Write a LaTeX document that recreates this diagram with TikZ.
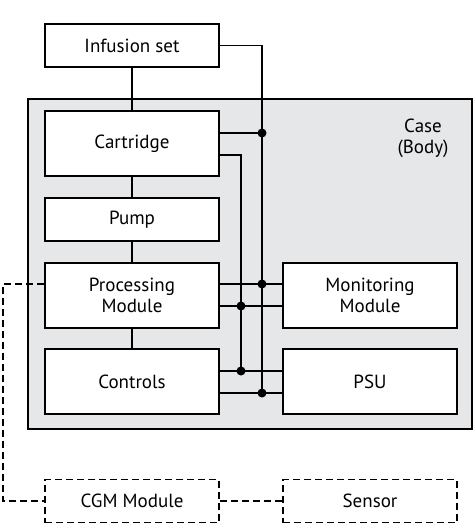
\documentclass[tikz,border=0pt]{standalone}
\usepackage{fontspec}
\setmainfont{PT Sans}
\usetikzlibrary{positioning}
\definecolor{casegray}{RGB}{230,231,233}

\begin{document}
\begin{tikzpicture}[x=1pt,y=-1pt,line width=1.5pt,
      font=\fontsize{19}{22}\selectfont,
      every node/.style={inner sep=0pt},
      block/.style={draw,fill=white,line width=1.7pt,minimum width=174pt,align=center},
      tall/.style={block,minimum height=65pt},
      short/.style={block,minimum height=43pt},
      ghost/.style={short,fill=none,dashed,dash pattern=on 7pt off 4pt},
      link/.style={dashed,dash pattern=on 7pt off 4pt,line width=1.7pt},
      dot/.style={circle,fill,minimum size=9pt}]
      \useasboundingbox (0,0) rectangle (474,524);
      % case
      \node[draw,fill=casegray,line width=1.7pt,minimum width=444pt,minimum height=330pt] (case) at (250,264) {};
      \node[align=center] (caselabel) at (423,138) {Case\\[-1pt](Body)};
      % blocks
      \node[short] (infusion)   at (132,45.5)  {Infusion set};
      \node[tall]  (cartridge)  at (132,143.5) {Cartridge};
      \node[short] (pump)       at (132,219.5) {Pump};
      \node[tall]  (processing) at (132,295.5) {Processing\\[-1pt]Module};
      \node[tall]  (controls)   at (132,381.5) {Controls};
      \node[tall]  (monitoring) at (370,295.5) {Monitoring\\[-1pt]Module};
      \node[tall]  (psu)        at (370,381.5) {PSU};
      \node[ghost] (cgm)        at (132,501)   {CGM Module};
      \node[ghost] (sensor)     at (370,501)   {Sensor};
      % bus points
      \coordinate (jA1) at (262,133);
      \coordinate (jA2) at (262,284);
      \coordinate (jA3) at (262,393);
      \coordinate (tB)  at (241,155);
      \coordinate (jB1) at (241,306);
      \coordinate (jB2) at (241,371);
      \coordinate (edge) at (3,284);
      % chain
      \draw (infusion) -- (cartridge) -- (pump) -- (processing) -- (controls);
      % buses
      \draw (infusion.east) -| (jA3);
      \draw (cartridge.east |- jA1) -- (jA1);
      \draw (cartridge.east |- tB) -- (tB) -- (jB2);
      \draw (processing.east |- jA2) -- (monitoring.west |- jA2);
      \draw (processing.east |- jB1) -- (monitoring.west |- jB1);
      \draw (controls.east |- jB2) -- (psu.west |- jB2);
      \draw (controls.east |- jA3) -- (psu.west |- jA3);
      \foreach \j in {jA1,jA2,jA3,jB1,jB2}
        \node[dot] at (\j) {};
      % outside links
      \draw[link] (processing.west |- jA2) -- (edge) |- (cgm.west);
      \draw[link] (cgm.east) -- (sensor.west);
\end{tikzpicture}
\end{document}
